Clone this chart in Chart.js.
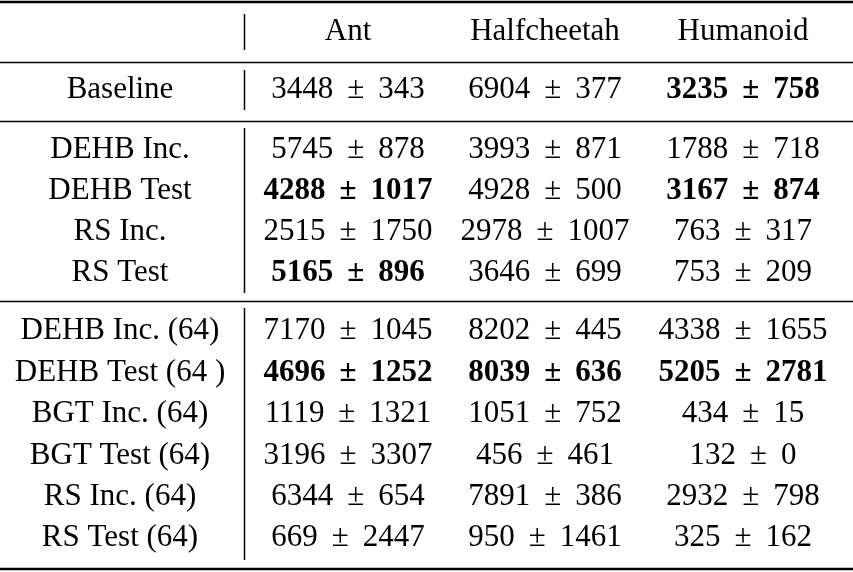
<!DOCTYPE html>
<html><head><meta charset="utf-8">
<script src="https://cdn.jsdelivr.net/npm/chart.js@4"></script>
<style>html,body{margin:0;background:#fff}#w{width:853px;height:572px}</style>
</head><body><div id="w"><canvas id="c"></canvas></div>
<script>
const columns = ["Ant", "Halfcheetah", "Humanoid"];
const rowLabels = ["Baseline","DEHB Inc.","DEHB Test","RS Inc.","RS Test","DEHB Inc. (64)","DEHB Test (64 )","BGT Inc. (64)","BGT Test (64)","RS Inc. (64)","RS Test (64)"];
const antMean = [3448,5745,4288,2515,5165,7170,4696,1119,3196,6344,669];
const antStd  = [343,878,1017,1750,896,1045,1252,1321,3307,654,2447];
const hcMean  = [6904,3993,4928,2978,3646,8202,8039,1051,456,7891,950];
const hcStd   = [377,871,500,1007,699,445,636,752,461,386,1461];
const huMean  = [3235,1788,3167,763,753,4338,5205,434,132,2932,325];
const huStd   = [758,718,874,317,209,1655,2781,15,0,798,162];
const boldCells = [[0,2],[2,0],[2,2],[4,0],[6,0],[6,1],[6,2]];

const rowY = [90,150,191,232,273,331,373,414,456,497,538];
const colX = [120,348,545,743];
const tablePlugin = {
  id:'table',
  afterDraw(chart){
    const ctx = chart.ctx;
    ctx.save();
    ctx.fillStyle='#000'; ctx.strokeStyle='#000';
    ctx.textAlign='center'; ctx.textBaseline='middle';
    const reg='31px "Liberation Serif"', bold='bold 31px "Liberation Serif"';
    ctx.font=reg;
    columns.forEach((c,i)=>ctx.fillText(c,colX[i+1],32));
    const means=[antMean,hcMean,huMean], stds=[antStd,hcStd,huStd];
    rowLabels.forEach((r,ri)=>{
      ctx.font=reg; ctx.fillText(r,colX[0],rowY[ri]);
      for(let ci=0;ci<3;ci++){
        const b=boldCells.some(x=>x[0]===ri&&x[1]===ci);
        ctx.font=b?bold:reg;
        ctx.fillText(means[ci][ri]+' \u2009\u00b1\u2009 '+stds[ci][ri],colX[ci+1],rowY[ri]);
      }
    });
    const hl=(y,w)=>{ctx.lineWidth=w;ctx.beginPath();ctx.moveTo(0,y);ctx.lineTo(853,y);ctx.stroke();};
    hl(2,2.5); hl(62.5,1.5); hl(121.5,1.5); hl(301.5,1.5); hl(569,2.5);
    ctx.lineWidth=1.5;
    const vl=(a,b)=>{ctx.beginPath();ctx.moveTo(244.5,a);ctx.lineTo(244.5,b);ctx.stroke();};
    vl(14,50); vl(70,110); vl(128,293); vl(308,560);
    ctx.restore();
  }
};
new Chart(document.getElementById('c'),{
  type:'bar',
  data:{labels:rowLabels,datasets:[{data:antMean,backgroundColor:'rgba(0,0,0,0)'}]},
  options:{responsive:true,maintainAspectRatio:false,animation:false,
    plugins:{legend:{display:false},tooltip:{enabled:false}},
    scales:{x:{display:false},y:{display:false}}},
  plugins:[tablePlugin]
});
</script></body></html>
